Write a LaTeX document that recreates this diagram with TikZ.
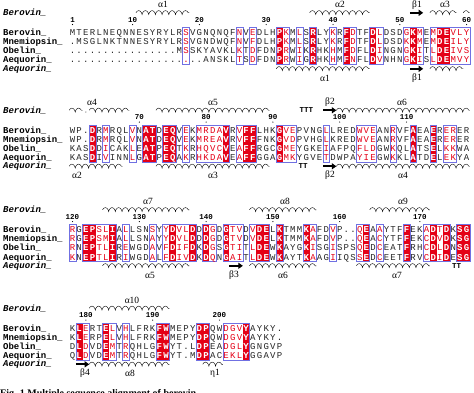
\documentclass[tikz,border=0pt]{standalone}
\usepackage{fontspec}
\setmainfont{Liberation Serif}
\setmonofont{Liberation Mono}
\usetikzlibrary{arrows.meta,decorations.pathmorphing}

\definecolor{espred}{RGB}{228,0,22}
\definecolor{espblue}{RGB}{112,112,226}

\tikzset{
  resN/.style={anchor=base, inner sep=0pt, font=\ttfamily\fontsize{9}{9}\selectfont, text=black!85},
  resC/.style={resN, text=espred},
  resS/.style={resN, text=white, font=\ttfamily\bfseries\fontsize{9}{9}\selectfont},
  seqname/.style={anchor=base west, inner sep=0pt, font=\ttfamily\bfseries\fontsize{9}{9}\selectfont},
  sstitle/.style={anchor=west, inner sep=0pt, font=\ttfamily\bfseries\itshape\fontsize{9}{9}\selectfont},
  numlab/.style={anchor=base, inner sep=0pt, font=\ttfamily\bfseries\fontsize{7.5}{7.5}\selectfont},
  sslab/.style={inner sep=0pt, font=\fontsize{9.5}{9.5}\selectfont},
  turnlab/.style={inner sep=0pt, font=\ttfamily\bfseries\fontsize{7.5}{7.5}\selectfont},
  boxframe/.style={draw=espblue, line width=0.6pt},
  helix/.style={decorate, decoration={coil, amplitude=2.2pt, segment length=6.68pt, aspect=0.5}, line width=0.4pt},
  strand/.style={line width=1.8pt, -{Triangle[length=4.5pt, width=6pt]}}
}

% column centre
\newcommand\cx[1]{72.5+(#1-1)*6.68}
\def\rowy{0}
\def\blk{0}
\newcommand\topy{\rowy-19.7}
\newcommand\toplab{\rowy-27.7}
\newcommand\boty{\rowy+36.3}
\newcommand\botlab{\rowy+45.5}

\newcount\colk
\newcount\runst
\newcommand\espframe[2]{\draw[boxframe] ({\cx{#1}-3.34},{\rowy-4.8}) rectangle ({\cx{#2}+3.34},{\rowy+32});}

% S = strict identity, c = similar, . = other
\def\putclasses#1{\global\colk=0 \global\runst=0 \putclassesi#1\relax}
\def\putclassesi#1{%
  \ifx#1\relax
    \ifnum\runst>0 \edef\ra{\the\runst}\edef\rb{\the\colk}\espframe\ra\rb\fi
  \else
    \global\advance\colk by 1
    \expandafter\xdef\csname cls\the\colk\endcsname{#1}%
    \if#1.%
      \ifnum\runst>0 \edef\ra{\the\runst}\edef\rb{\the\numexpr\colk-1\relax}\espframe\ra\rb\global\runst=0 \fi
    \else
      \ifnum\runst=0 \global\runst=\colk\fi
      \if#1S\fill[espred] ({\cx{\the\colk}-3.34},{\rowy-4.8}) rectangle ({\cx{\the\colk}+3.34},{\rowy+32});\fi
    \fi
    \expandafter\putclassesi
  \fi}

\def\putrow#1#2{\global\colk=0 \def\rowno{#1}\putrowi#2\relax}
\def\putrowi#1{%
  \ifx#1\relax\else
    \global\advance\colk by 1
    \edef\cl{\csname cls\the\colk\endcsname}%
    \edef\rs{\if S\cl S\else\if c\cl C\else N\fi\fi}%
    \edef\act{\noexpand\node[res\rs] (b\blk r\rowno c\the\colk) at ({\cx{\the\colk}},{\rowy+(\rowno-1)*9.1+3.2}) {#1};}%
    \act
    \expandafter\putrowi
  \fi}

\newcommand\resnum[3]{%
  \node[numlab] (#1) at ({\cx{#2}},{\rowy-10.3}) {#3};
  \fill ({\cx{#2}},{\rowy-7.9}) circle (0.6);}
\newcommand\helixat[3]{\draw[helix] ({\cx{#1}-3.34},{#3}) -- ({\cx{#2}+3.34},{#3});}
\newcommand\strandat[3]{\draw[strand] ({\cx{#1}-3.34},{#3}) -- ({\cx{#2}+3.34},{#3});}

\begin{document}
\begin{tikzpicture}[x=1pt, y=-1pt]
\useasboundingbox (0,0) rectangle (474,393);

% block 1
\def\blk{1}\def\rowy{32.5}
\putclasses{.......... .......c.. .....c.c.. .Sc.c.S..c .Sc..Sc... cSc.cSSccc}
\putrow1{MTERLNEQNN ESYRYLRSVG NQNQFNVEDL HPKMLSRLYK RFDTFDLDSD GKMEMDEVLY}
\putrow2{.MSGLNKTNN ESYRYLRSVG NDWQFNVFDL HPKMLSRLYK RFDTFDLDSD KKMEMDEILY}
\putrow3{.......... ......MSSK YAVKLKTDFD NPRWIKRHKH MFDFLDINGN GKITLDEIVS}
\putrow4{.......... .......... ANSKLTSDFD NPRWIGRHKH MFNFLDVNHN GKISLDEMVY}
\foreach \k in {1,10,20,30,40,50,60}{
  \resnum{b1n\k}{\k}{\k}
}
\helixat{11}{18}{\topy}
\node[sslab] (b1a1) at (163,{\toplab}) {α1};
\helixat{37}{45}{\topy}
\node[sslab] (b1a2) at (340,{\toplab}) {α2};
\strandat{52}{53}{\topy}
\node[sslab] (b1b1) at (417,{\toplab}) {β1};
\helixat{55}{58}{\topy}
\helixat{60}{60}{\topy}
\node[sslab] (b1a3) at (445,{\toplab}) {α3};
\helixat{32}{45}{\boty}
\node[sslab] (b1q1) at (325,{\botlab}) {α1};
\strandat{52}{53}{\boty}
\node[sslab] (b1p1) at (417,{\botlab}) {β1};
\helixat{55}{59}{\boty}

% block 2
\def\blk{2}\def\rowy{130}
\putclasses{...S.c...c .SS.SS.c.c cccS.cSS.. .Scc....c. ...ccc..c. .S..S.cc..}
\putrow1{WP.DRMRQLV NATDEQVEKM RDAVRVFFLH KGVEPVNGLL REDWVEANRV FAEAERERER}
\putrow2{WP.DRMRQLV NATDEQVEKM REAVRVFFFN KGVDPVHGLK REDWVEANRV FAEAERERER}
\putrow3{KASDDICAKL EATPEQTKRH QVCVEAFFRG CGMEYGKEIA FPQFLDGWKQ LATSELKKWA}
\putrow4{KASDIVINNL GATPEQAKRH KDAVEAFFGG AGMKYGVETD WPAYIEGWKK LATDELEKYA}
\foreach \k/\c in {70/11,80/21,90/31,100/41,110/51}{
  \resnum{b2n\k}{\c}{\k}
}
\helixat{1}{2}{\topy}
\fill ({\cx{3}},{\topy+1.8}) circle (0.5);
\helixat{4}{9}{\topy}
\node[sslab] (b2a4) at (92,{\toplab}) {α4};
\helixat{14}{30}{\topy}
\node[sslab] (b2a5) at (213,{\toplab}) {α5};
\node[turnlab] (b2t1) at ({\cx{36}},{\topy}) {TTT};
\strandat{39}{40}{\topy}
\node[sslab] (b2b2) at (330,{\toplab}) {β2};
\helixat{41}{60}{\topy}
\node[sslab] (b2a6) at (402,{\toplab}) {α6};
\helixat{1}{8}{\boty}
\node[sslab] (b2q2) at (77,{\botlab}) {α2};
\helixat{14}{30}{\boty}
\node[sslab] (b2q3) at (213,{\botlab}) {α3};
\node[turnlab] (b2t2) at (303,{\boty}) {TT};
\strandat{39}{40}{\boty}
\node[sslab] (b2p2) at (330,{\botlab}) {β2};
\helixat{41}{60}{\boty}
\node[sslab] (b2q4) at (403,{\botlab}) {α4};

% block 3
\def\blk{3}\def\rowy{229.5}
\putclasses{c.SSccS.c. ..c.cSccS. Sc.Scc.cSS .S...Sc..c ...cS.c... S..cScS.SS}
\putrow1{RGEPSLIALL SNSYYDVLDD DGDGTVDVDE LKTMMKAFDV P..QEAAYTF FEKADTDKSG}
\putrow2{RGEPSMIALL SNAYYDVLDD DGDGTVDVDE LKTMMKAFDV P..QEACYTF FEKCDVDKSG}
\putrow3{RNEPTLIREW GDAVFDIFDK DGSGTITLDE WKAYGKISGI SPSQEDCEAT FRHCDLDNSG}
\putrow4{KNEPTLIRIW GDALFDIVDK DQNGAITLDE WKAYTKAAGI IQSSEDCEET FRVCDIDESG}
\foreach \k/\c in {120/1,130/11,140/21,150/31,160/41,170/53}{
  \resnum{b3n\k}{\c}{\k}
}
\helixat{6}{18}{\topy}
\node[sslab] (b3a7) at (148,{\toplab}) {α7};
\helixat{28}{37}{\topy}
\node[sslab] (b3a8) at (285,{\toplab}) {α8};
\helixat{46}{54}{\topy}
\node[sslab] (b3a9) at (403,{\toplab}) {α9};
\helixat{6}{18}{\boty}
\node[sslab] (b3q5) at (150,{\botlab}) {α5};
\strandat{25}{26}{\boty}
\node[sslab] (b3p3) at (234,{\botlab}) {β3};
\helixat{28}{37}{\boty}
\node[sslab] (b3q6) at (283,{\botlab}) {α6};
\helixat{44}{54}{\boty}
\node[sslab] (b3q7) at (397,{\botlab}) {α7};
\node[turnlab] (b3t1) at (456.6,{\boty}) {TT};

% block 4
\def\blk{4}\def\rowy{328}
\putclasses{.Sc..Sc.c. ...SS....S S..cccS... ..}
\putrow1{KLERTELVHL FRKFWMEPYD PQWDGVYAYK Y.}
\putrow2{KLERPELVHL FRKFWMEPYD PQWDGVYAYK Y.}
\putrow3{DLDVDEMTRQ HLGFWYT.LD PEADGLYGNG VP}
\putrow4{QLDVDEMTRQ HLGFWYT.MD PACEKLYGGA VP}
\foreach \k/\c in {180/3,190/13,200/23}{
  \resnum{b4n\k}{\c}{\k}
}
\helixat{4}{15}{\topy}
\node[sslab] (b4a10) at (132,{\toplab}) {α10};
\strandat{2}{3}{\boty}
\node[sslab] (b4p4) at (85,{\botlab}) {β4};
\helixat{4}{15}{\boty}
\node[sslab] (b4q8) at (130,{\botlab}) {α8};
\helixat{21}{23}{\boty}
\node[sslab] (b4e1) at (215,{\botlab}) {η1};

% sequence names
\foreach \b/\y in {1/32.5,2/130,3/229.5,4/328}{
  \node[sstitle] (top\b) at (3,{\y-19.7}) {Berovin\_};
  \foreach \n [count=\r] in {Berovin,Mnemiopsin,Obelin,Aequorin}
    \node[seqname] (name\b\r) at (3,{\y+(\r-1)*9.1+3.2}) {\n\_};
  \node[sstitle] (bot\b) at (3,{\y+36.3}) {Aequorin\_};
}

% caption, cut by the page edge as in the figure
\node[anchor=base west, inner sep=0pt, font=\bfseries\fontsize{10}{12}\selectfont] (caption) at (0,396.5) {Fig. 1 Multiple sequence alignment of berovin};
\end{tikzpicture}
\end{document}
